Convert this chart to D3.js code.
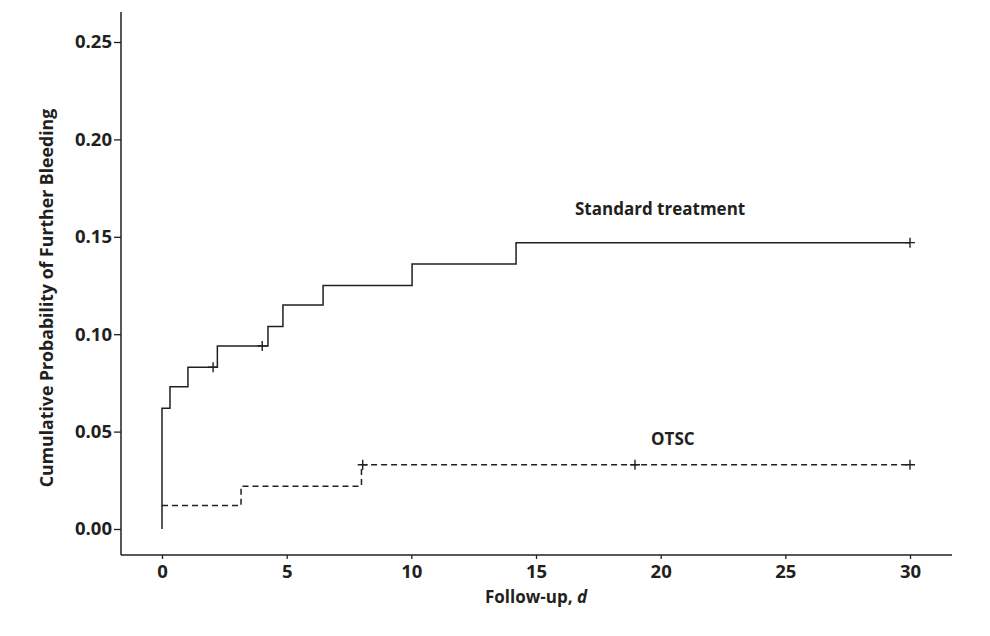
<!DOCTYPE html>
<html><head><meta charset="utf-8">
<script src="https://cdn.jsdelivr.net/npm/d3@7"></script>
<style>
body{margin:0;background:#fff;}
text{font-family:"Open Sans","Noto Sans",sans-serif;font-weight:700;fill:#231f20;}
</style></head>
<body><svg id="c" width="990" height="636"></svg>
<script>
// Data (days, cumulative probability)
const standardTimes = [0, 0, 0.32, 1.04, 2.22, 4.25, 4.85, 6.46, 10.03, 14.2, 30];
const standardProbs = [0, 0.062, 0.073, 0.083, 0.094, 0.104, 0.115, 0.125, 0.136, 0.147, 0.147];
const standardCensored = [2.05, 4.02, 30];
const otscTimes = [0, 3.17, 8.0, 30];
const otscProbs = [0.012, 0.022, 0.033, 0.033];
const otscCensored = [8.05, 18.97, 30];
const xTicks = [0, 5, 10, 15, 20, 25, 30];
const yTicks = [0, 0.05, 0.10, 0.15, 0.20, 0.25];

const svg = d3.select("#c");
const x = d3.scaleLinear().domain([0, 30]).range([162, 910]);
const y = d3.scaleLinear().domain([0, 0.25]).range([529, 42]);
const FS = "17px";
const TFS = "18.5px";

// axes
const yAxis = d3.axisLeft(y).tickValues(yTicks).tickFormat(d3.format(".2f")).tickSize(7).tickPadding(2);
const gy = svg.append("g").attr("transform", "translate(121,0)").call(yAxis);
gy.select(".domain").attr("d", "M0,12V555");
const xAxis = d3.axisBottom(x).tickValues(xTicks).tickFormat(d3.format("d")).tickSize(4).tickPadding(6);
const gx = svg.append("g").attr("transform", "translate(0,555)").call(xAxis);
gx.select(".domain").attr("d", "M121,0H952");
[gx, gy].forEach(g => {
  g.selectAll(".domain").attr("stroke", "#231f20").attr("stroke-width", 1.5);
  g.selectAll(".tick line").attr("stroke", "#231f20").attr("stroke-width", 1.3);
  g.selectAll(".tick text").style("font-size", TFS).style("font-family", "'Open Sans',sans-serif").style("font-weight", 700).attr("fill", "#231f20");
});

// axis titles
svg.append("text").attr("transform", "translate(53,298) rotate(-90)").attr("text-anchor", "middle")
  .style("font-size", "17.7px").text("Cumulative Probability of Further Bleeding");
const xt = svg.append("text").attr("x", 536).attr("y", 603).attr("text-anchor", "middle").style("font-size", FS);
xt.append("tspan").text("Follow-up, ");
xt.append("tspan").attr("font-style", "italic").text("d");

// step lines
const line = d3.line().x(d => x(d[0])).y(d => y(d[1])).curve(d3.curveStepAfter);
const stdData = standardTimes.map((t, i) => [t, standardProbs[i]]);
const otscData = otscTimes.map((t, i) => [t, otscProbs[i]]);
svg.append("path").attr("d", line(stdData)).attr("fill", "none").attr("stroke", "#231f20").attr("stroke-width", 1.5);
svg.append("path").attr("d", line(otscData)).attr("fill", "none").attr("stroke", "#231f20").attr("stroke-width", 1.5).attr("stroke-dasharray", "6,4");

function stepVal(times, probs, t) {
  let v = probs[0];
  for (let i = 0; i < times.length; i++) if (times[i] <= t) v = probs[i];
  return v;
}
function censor(times, probs, cens) {
  cens.forEach(c => {
    const px = x(c), py = y(stepVal(times, probs, c));
    svg.append("path").attr("d", `M${px},${py - 5}V${py + 5}M${px - 5},${py}H${px + 5}`)
      .attr("stroke", "#231f20").attr("stroke-width", 1.4).attr("fill", "none");
  });
}
censor(standardTimes, standardProbs, standardCensored);
censor(otscTimes, otscProbs, otscCensored);

// labels
svg.append("text").attr("x", 575).attr("y", 215).style("font-size", FS).text("Standard treatment");
svg.append("text").attr("x", 651).attr("y", 445).style("font-size", FS).text("OTSC");
</script></body></html>
